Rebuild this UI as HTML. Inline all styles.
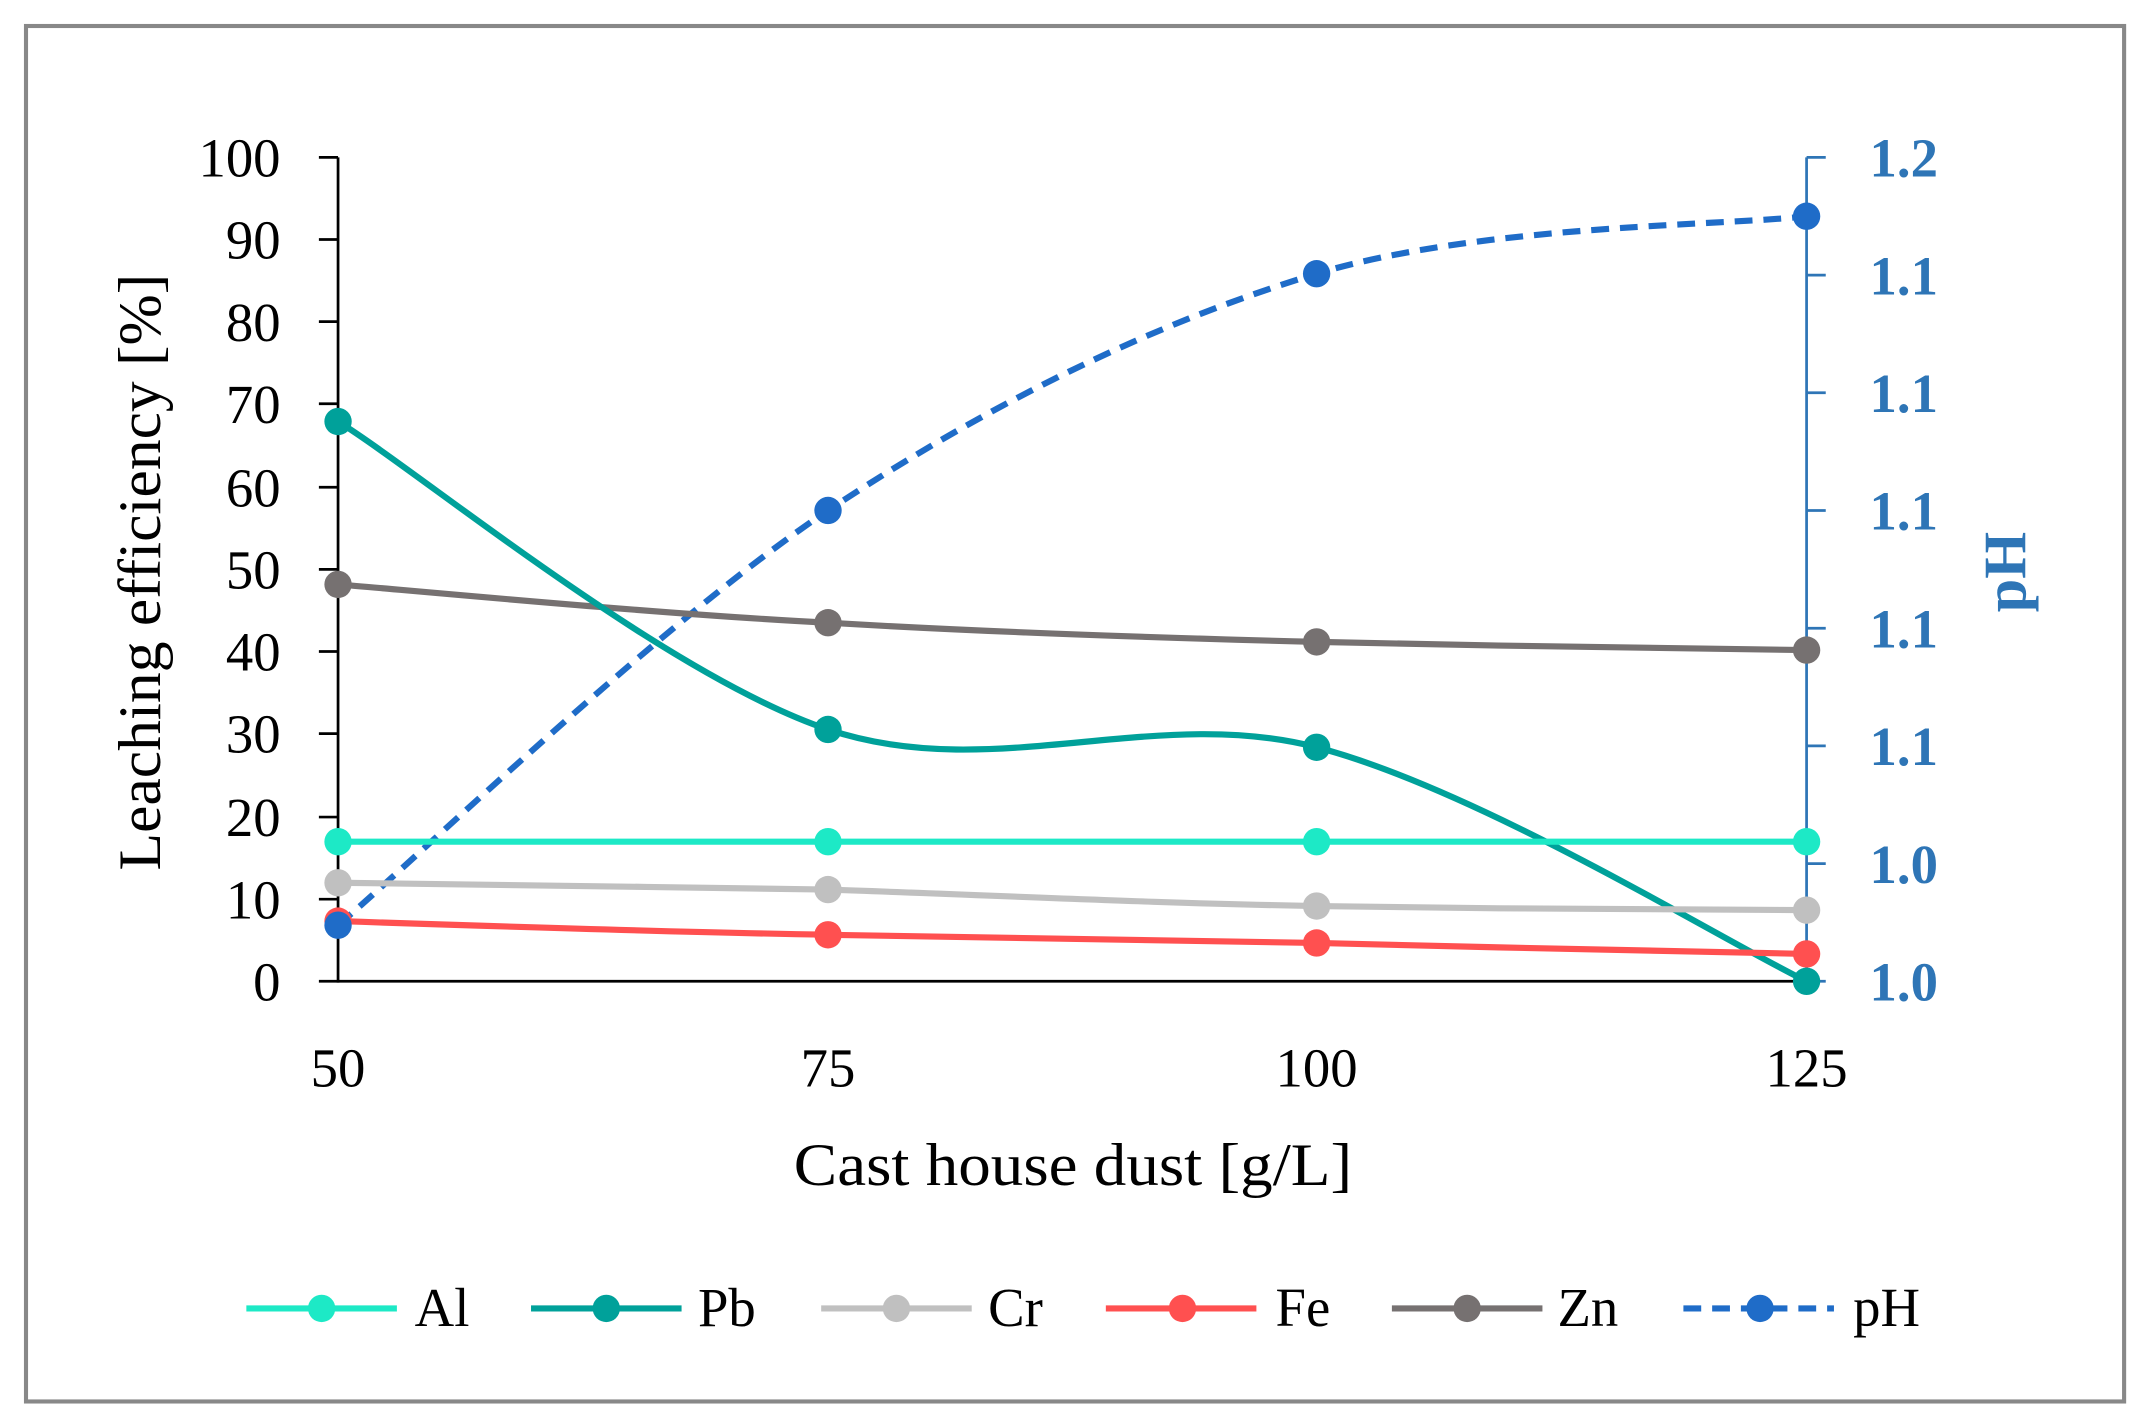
<!DOCTYPE html>
<html><head><meta charset="utf-8"><style>
html,body{margin:0;padding:0;background:#fff;}
svg{display:block;}
text{font-family:"Liberation Serif","DejaVu Serif",serif;}
</style></head><body>
<svg width="2146" height="1422" viewBox="0 0 1568 1039" preserveAspectRatio="none" xmlns="http://www.w3.org/2000/svg">
<rect x="0" y="0" width="1568" height="1039" fill="#fff"/>
<rect x="19" y="19" width="1533" height="1005" fill="none" stroke="#888" stroke-width="3"/>
<g stroke="#000" stroke-width="2">
<line x1="247" y1="115" x2="247" y2="718"/>
<line x1="233" y1="115" x2="247" y2="115"/><line x1="233" y1="175" x2="247" y2="175"/>
<line x1="233" y1="235" x2="247" y2="235"/><line x1="233" y1="295" x2="247" y2="295"/>
<line x1="233" y1="356" x2="247" y2="356"/><line x1="233" y1="416" x2="247" y2="416"/>
<line x1="233" y1="476" x2="247" y2="476"/><line x1="233" y1="536" x2="247" y2="536"/>
<line x1="233" y1="597" x2="247" y2="597"/><line x1="233" y1="657" x2="247" y2="657"/>
<line x1="233" y1="717" x2="1320" y2="717"/>
</g>
<g font-size="40" text-anchor="end" fill="#000">
<text x="205" y="129">100</text><text x="205" y="189">90</text><text x="205" y="249">80</text>
<text x="205" y="309">70</text><text x="205" y="370">60</text><text x="205" y="430">50</text>
<text x="205" y="490">40</text><text x="205" y="550">30</text><text x="205" y="611">20</text>
<text x="205" y="671">10</text><text x="205" y="731">0</text>
</g>
<g stroke="#2e75b6" stroke-width="2">
<line x1="1320" y1="115" x2="1320" y2="717"/>
<line x1="1320" y1="115" x2="1334" y2="115"/><line x1="1320" y1="201" x2="1334" y2="201"/>
<line x1="1320" y1="287" x2="1334" y2="287"/><line x1="1320" y1="373" x2="1334" y2="373"/>
<line x1="1320" y1="459" x2="1334" y2="459"/><line x1="1320" y1="545" x2="1334" y2="545"/>
<line x1="1320" y1="631" x2="1334" y2="631"/><line x1="1320" y1="717" x2="1334" y2="717"/>
</g>
<g font-size="40" font-weight="bold" fill="#2e75b6">
<text x="1366" y="129">1.2</text><text x="1366" y="215">1.1</text><text x="1366" y="301">1.1</text>
<text x="1366" y="387">1.1</text><text x="1366" y="473">1.1</text><text x="1366" y="559">1.1</text>
<text x="1366" y="645">1.0</text><text x="1366" y="731">1.0</text>
</g>
<text transform="translate(1480,418) rotate(-90)" font-size="44" font-weight="bold" fill="#2e75b6" text-anchor="middle">pH</text>
<text transform="translate(117,418) rotate(-90)" font-size="44" fill="#000" text-anchor="middle" textLength="436" lengthAdjust="spacingAndGlyphs">Leaching efficiency [%]</text>
<g font-size="40" text-anchor="middle" fill="#000">
<text x="247" y="794">50</text><text x="605" y="794">75</text><text x="962" y="794">100</text><text x="1320" y="794">125</text>
</g>
<text x="784" y="866" font-size="44" text-anchor="middle" fill="#000" textLength="408" lengthAdjust="spacingAndGlyphs">Cast house dust [g/L]</text>
<g fill="none" stroke-width="4.5">
<path d="M247,676 C307,625 486,452 605,373 C724,294 843,236 962,200 C1081,164 1260,165 1320,158" stroke="#1f6cc8" stroke-dasharray="13,8"/>
<path d="M247,427 C307,432 486,449 605,455 C724,462 843,466 962,469 C1081,472 1260,474 1320,475" stroke="#767171"/>
<path d="M247,308 C307,345 486,493 605,533 C724,573 843,515 962,546 C1081,577 1260,688 1320,717" stroke="#00a19a"/>
<path d="M247,615 L1320,615" stroke="#1de9c6"/>
<path d="M247,645 C307,646 486,648 605,650 C724,654 843,660 962,662 C1081,664 1260,665 1320,665" stroke="#c0c0c0"/>
<path d="M247,673 C307,675 486,681 605,683 C724,685 843,687 962,689 C1081,692 1260,696 1320,697" stroke="#ff5050"/>
</g>
<g fill="#1de9c6"><circle cx="247" cy="615" r="10"/><circle cx="605" cy="615" r="10"/><circle cx="962" cy="615" r="10"/><circle cx="1320" cy="615" r="10"/></g>
<g fill="#c0c0c0"><circle cx="247" cy="645" r="10"/><circle cx="605" cy="650" r="10"/><circle cx="962" cy="662" r="10"/><circle cx="1320" cy="665" r="10"/></g>
<g fill="#ff5050"><circle cx="247" cy="673" r="10"/><circle cx="605" cy="683" r="10"/><circle cx="962" cy="689" r="10"/><circle cx="1320" cy="697" r="10"/></g>
<g fill="#767171"><circle cx="247" cy="427" r="10"/><circle cx="605" cy="455" r="10"/><circle cx="962" cy="469" r="10"/><circle cx="1320" cy="475" r="10"/></g>
<g fill="#00a19a"><circle cx="247" cy="308" r="10"/><circle cx="605" cy="533" r="10"/><circle cx="962" cy="546" r="10"/><circle cx="1320" cy="717" r="10"/></g>
<g fill="#1f6cc8"><circle cx="247" cy="676" r="10"/><circle cx="605" cy="373" r="10"/><circle cx="962" cy="200" r="10"/><circle cx="1320" cy="158" r="10"/></g>
<g stroke-width="4.5">
<line x1="180" y1="956" x2="290" y2="956" stroke="#1de9c6"/>
<line x1="388" y1="956" x2="498" y2="956" stroke="#00a19a"/>
<line x1="600" y1="956" x2="710" y2="956" stroke="#c0c0c0"/>
<line x1="808" y1="956" x2="918" y2="956" stroke="#ff5050"/>
<line x1="1017" y1="956" x2="1127" y2="956" stroke="#767171"/>
<line x1="1230" y1="956" x2="1340" y2="956" stroke="#1f6cc8" stroke-dasharray="13,8"/>
</g>
<circle cx="235" cy="956" r="10" fill="#1de9c6"/>
<circle cx="443" cy="956" r="10" fill="#00a19a"/>
<circle cx="655" cy="956" r="10" fill="#c0c0c0"/>
<circle cx="864" cy="956" r="10" fill="#ff5050"/>
<circle cx="1072" cy="956" r="10" fill="#767171"/>
<circle cx="1286" cy="956" r="10" fill="#1f6cc8"/>
<g font-size="40" fill="#000">
<text x="303" y="969">Al</text><text x="510" y="969">Pb</text><text x="722" y="969">Cr</text>
<text x="932" y="969">Fe</text><text x="1138" y="969">Zn</text><text x="1354" y="969">pH</text>
</g>
</svg>
</body></html>
